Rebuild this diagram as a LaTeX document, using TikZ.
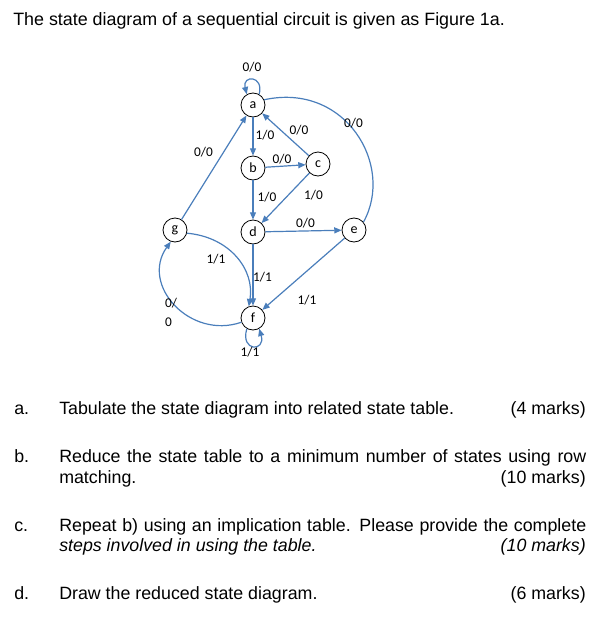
\documentclass[tikz,border=0pt]{standalone}
\usepackage{fontspec}
\setmainfont{Liberation Sans}
\newfontfamily\calfont{Carlito}
\usetikzlibrary{arrows.meta}
\definecolor{wordblue}{RGB}{74,126,187}

\begin{document}
\begin{tikzpicture}[x=0.75pt,y=0.75pt,yscale=-1,xscale=1,
	state/.style={circle,draw,line width=0.6pt,minimum size=18pt,inner sep=0pt,font=\calfont\fontsize{10.5}{12}\selectfont},
	trans/.style={draw=wordblue,line width=0.9pt,-{Triangle[length=5.5pt,width=4.5pt]}},
	lbl/.style={inner sep=0.75pt,font=\calfont\fontsize{10}{14.25}\selectfont},
	qtext/.style={anchor=base west,inner sep=0pt,font=\fontsize{13.35}{16}\selectfont},
	marks/.style={anchor=base east,inner sep=0pt,font=\fontsize{13.35}{16}\selectfont}]
	\useasboundingbox (0,0) rectangle (604,639);
	
	%Shape: Circle
	\node [state] (a) at (253,105) {a};
	\node [state] (b) at (253,168) {b};
	\node [state] (c) at (318,164) {c};
	\node [state] (d) at (253,232) {d};
	\node [state] (e) at (354,230) {e};
	\node [state] (g) at (175,230) {g};
	\node [state] (f) at (253,318) {f};
	
	%Curve Lines
	\draw [trans] (a.60) .. controls (264,75) and (242,75) .. (a.120) ;
	\draw [trans] (f.240) .. controls (240,352) and (266,352) .. (f.300) ;
	\draw [trans] (g.-15) .. controls (230,237) and (255,270) .. (f.110) ;
	\draw [trans] (f.200) .. controls (190,340) and (140,285) .. (g.250) ;
	\draw [draw=wordblue,line width=0.9pt] (a.25) .. controls (345,82) and (395,165) .. (e.40) ;
	
	%Straight Lines
	\draw [trans] (a) -- (b) ;
	\draw [trans] (g) -- (a) ;
	\draw [trans] (b) -- (c) ;
	\draw [trans] (c) -- (a) ;
	\draw [trans] (b) -- (d) ;
	\draw [trans] (c) -- (d) ;
	\draw [trans] (d) -- (e) ;
	\draw [trans] (d) -- (f) ;
	\draw [trans] (e) -- (f) ;
	
	% Text Node
	\node [lbl] (l-aa) at (252,67) {0/0};
	\node [lbl] (l-ab) at (265,135) {1/0};
	\node [lbl] (l-ca) at (299,130) {0/0};
	\node [lbl] (l-ea) at (353.5,123) {0/0};
	\node [lbl] (l-ga) at (203.5,152) {0/0};
	\node [lbl] (l-bc) at (282,159) {0/0};
	\node [lbl] (l-bd) at (267,197) {1/0};
	\node [lbl] (l-cd) at (313.5,195) {1/0};
	\node [lbl] (l-de) at (305.5,223) {0/0};
	\node [lbl] (l-df) at (262.5,277) {1/1};
	\node [lbl] (l-ef) at (307,300) {1/1};
	\node [lbl] (l-gf) at (216,259) {1/1};
	\node [lbl] (l-ff) at (250,352) {1/1};
	\node [lbl,align=left] (l-fg) at (171,312) {0/\\0};
	
	% Text Node
	\node [qtext,font=\fontsize{13.4}{16}\selectfont] (title) at (13,26) {The state diagram of a sequential circuit is given as Figure 1a.};
	\node [qtext] (qa-no) at (14,414) {a.};
	\node [qtext] (qa) at (59,414) {Tabulate the state diagram into related state table.};
	\node [marks] (qa-mk) at (586,414) {(4 marks)};
	\node [qtext] (qb-no) at (14,462) {b.};
	\node [qtext] (qb) at (59,462) {\makebox[395.25pt][s]{Reduce the state table to a minimum number of states using row}};
	\node [qtext] (qb2) at (59,483) {matching.};
	\node [marks] (qb-mk) at (586,483) {(10 marks)};
	\node [qtext] (qc-no) at (14,531) {c.};
	\node [qtext] (qc) at (59,531) {\makebox[395.25pt][s]{Repeat b) using an implication table. Please provide the complete}};
	\node [qtext] (qc2) at (59,551) {\itshape steps involved in using the table.};
	\node [marks] (qc-mk) at (586,551) {\itshape (10 marks)};
	\node [qtext] (qd-no) at (14,599) {d.};
	\node [qtext] (qd) at (59,599) {Draw the reduced state diagram.};
	\node [marks] (qd-mk) at (586,599) {(6 marks)};
	
\end{tikzpicture}
\end{document}
